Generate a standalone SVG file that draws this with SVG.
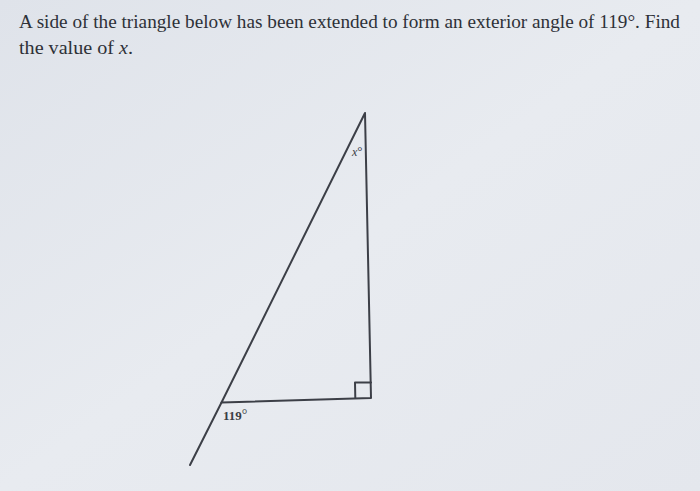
<svg xmlns="http://www.w3.org/2000/svg" width="700" height="491" viewBox="0 0 700 491">
  <defs>
    <linearGradient id="bg" x1="0" y1="0" x2="1" y2="1">
      <stop offset="0" stop-color="#dfe3ea"/>
      <stop offset="0.5" stop-color="#e8ebf0"/>
      <stop offset="1" stop-color="#e4e7ed"/>
    </linearGradient>
  </defs>
  <style>
    .q { font-family: "Liberation Serif", "DejaVu Serif", serif; font-size: 19px; fill: #2e3138; }
    .lbl { font-family: "Liberation Serif", "DejaVu Serif", serif; fill: #3a3d45; }
    .edge { stroke: #3c3f47; stroke-width: 2; fill: none; stroke-linecap: round; stroke-linejoin: round; }
  </style>
  <rect x="0" y="0" width="700" height="491" fill="url(#bg)"/>
  <g id="question">
    <text class="q" x="19" y="28" textLength="661" lengthAdjust="spacingAndGlyphs">A side of the triangle below has been extended to form an exterior angle of 119°. Find</text>
    <text class="q" x="19" y="54" textLength="114" lengthAdjust="spacingAndGlyphs">the value of <tspan font-style="italic">x</tspan>.</text>
  </g>
  <g id="connectors">
    <path class="edge" d="M365,113 L371,398 L221.5,402.5 Z"/>
    <path class="edge" d="M221.5,402.5 L190,465"/>
    <path class="edge" stroke-width="1.5" d="M355,382.5 L371,382.5 M355,382.5 L355.3,398"/>
  </g>
  <g id="label-x">
    <text class="lbl" x="352" y="156" font-size="12" font-style="italic">x<tspan font-size="13" dy="-1" font-style="normal">°</tspan></text>
  </g>
  <g id="label-119">
    <text class="lbl" x="223" y="420" font-size="13" font-weight="bold">119<tspan font-size="14" dy="-1" font-weight="normal">°</tspan></text>
  </g>
</svg>
